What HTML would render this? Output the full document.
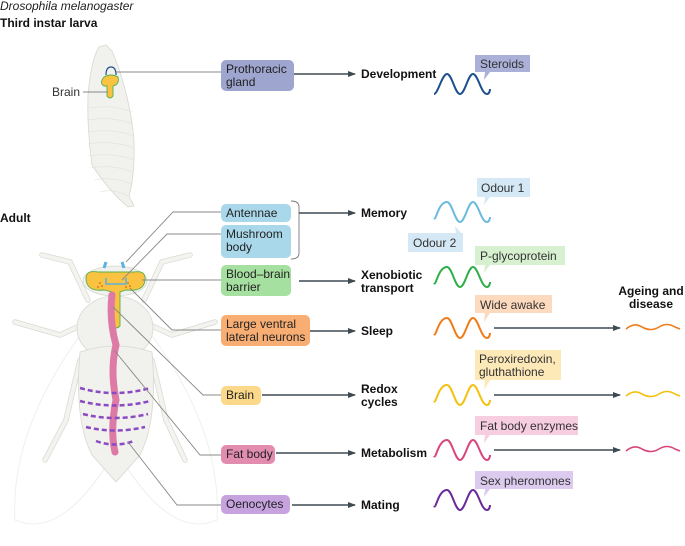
<!DOCTYPE html>
<html><head><meta charset="utf-8"><style>
html,body{margin:0;padding:0;background:#fff;}
svg{display:block;font-family:"Liberation Sans",sans-serif;}
.b{font-weight:bold;font-size:12px;fill:#111;}
.t{font-size:12px;fill:#333;}
.ln{stroke:#888;stroke-width:0.9;fill:none;}
.ar{stroke:#3d4a52;stroke-width:1.6;fill:none;}
.w{fill:none;stroke-width:2;}
.fly{fill:#f1f1ed;stroke:#d8d8d2;stroke-width:0.8;}
</style></head><body>
<svg width="685" height="546" viewBox="0 0 685 546" xmlns="http://www.w3.org/2000/svg">
<defs>
<marker id="ah" markerWidth="8" markerHeight="8" refX="7" refY="4" orient="auto" markerUnits="userSpaceOnUse"><path d="M0,1 L8,4 L0,7 Z" fill="#3d4a52"/></marker>
</defs>
<text x="0" y="10" font-style="italic" font-size="12" fill="#222">Drosophila melanogaster</text>
<text x="0" y="27" class="b">Third instar larva</text>
<text x="0" y="222" class="b">Adult</text>

<!-- larva -->
<path class="fly" d="M99,47 L106,45 L112,51 Q129,90 134,140 Q135,175 129,196 L134,206 L128,207 Q108,190 92,165 Q87,130 88,95 Q91,60 99,47 Z"/>
<g stroke="#e2e2dc" stroke-width="0.6" fill="none">
<path d="M89,108 Q112,104 132,112"/><path d="M88,120 Q112,116 133,124"/><path d="M88,132 Q112,128 134,136"/><path d="M88,144 Q112,140 134,148"/><path d="M88,156 Q112,152 134,160"/><path d="M90,168 Q112,164 133,172"/><path d="M94,180 Q112,176 131,184"/><path d="M100,192 Q113,188 128,196"/>
</g>
<path d="M106,75 Q106,67 111,67 Q116,67 116,75" fill="none" stroke="#1d4f8f" stroke-width="1.2"/>
<path d="M104,77 Q99,83 104,86 L107,86 L107,96 Q110,100 113,96 L113,86 Q120,84 118,77 Q111,73 104,77 Z" fill="#f9c240" stroke="#56b04a" stroke-width="0.9"/>
<text x="52" y="96" class="t">Brain</text>
<line x1="83" y1="92" x2="108" y2="92" class="ln"/>
<line x1="116" y1="72" x2="221" y2="72" class="ln"/>

<!-- adult fly -->
<g>
<path d="M84,330 Q10,430 15,520 Q60,540 110,460 Z" fill="none" stroke="#ececea" stroke-width="0.8"/>
<path d="M148,330 Q222,430 217,520 Q172,540 122,460 Z" fill="none" stroke="#ececea" stroke-width="0.8"/>
<g stroke="#d9d9d3" stroke-width="5.5" stroke-linecap="round" fill="none">
<path d="M88,300 L70,262 L42,255"/><path d="M144,300 L162,262 L190,255"/>
<path d="M82,325 L60,335 L15,322"/><path d="M150,325 L172,335 L215,322"/>
<path d="M80,360 L66,420 L45,460"/><path d="M152,360 L166,420 L185,460"/>
</g>
<g stroke="#f3f3f0" stroke-width="4" stroke-linecap="round" fill="none">
<path d="M88,300 L70,262 L42,255"/><path d="M144,300 L162,262 L190,255"/>
<path d="M82,325 L60,335 L15,322"/><path d="M150,325 L172,335 L215,322"/>
<path d="M80,360 L66,420 L45,460"/><path d="M152,360 L166,420 L185,460"/>
</g>
<ellipse class="fly" cx="115" cy="281" rx="32" ry="15"/>
<ellipse class="fly" cx="115" cy="328" rx="38" ry="32"/>
<path class="fly" d="M80,352 Q115,340 152,352 Q158,420 140,455 L116,482 L92,455 Q74,420 80,352 Z"/>
<path d="M86,278 Q86,270 98,272 L134,272 Q146,270 145,280 Q144,292 126,290 L120,292 L120,326 Q116,330 112,326 L112,292 L104,290 Q86,292 86,278 Z" fill="#f9c240" stroke="#56b04a" stroke-width="0.9"/>
<path d="M106,278 L106,284 L126,284 L126,278" fill="none" stroke="#5cb2e0" stroke-width="1.6"/>
<circle cx="100" cy="283" r="1" fill="#e2781a"/><circle cx="102" cy="286" r="1" fill="#e2781a"/><circle cx="98" cy="287" r="1" fill="#e2781a"/>
<circle cx="128" cy="283" r="1" fill="#e2781a"/><circle cx="130" cy="286" r="1" fill="#e2781a"/><circle cx="126" cy="287" r="1" fill="#e2781a"/>
<path d="M104,268 L106,262 M124,268 L122,262" stroke="#5cb2e0" stroke-width="3"/>
<path d="M112,295 Q109,320 116,345 Q110,370 116,400 Q110,430 115,452" stroke="#de7aa6" stroke-width="7" fill="none" stroke-linecap="round"/>
<g stroke="#8a4bc2" stroke-width="2.5" stroke-dasharray="5,3" fill="none">
<path d="M80,388 Q115,398 150,388"/><path d="M80,401 Q115,410 150,401"/><path d="M83,414 Q115,422 148,414"/><path d="M86,427 Q115,434 145,427"/><path d="M96,441 Q115,448 134,441"/>
</g>
</g>

<!-- leader lines -->
<polyline class="ln" points="221,212 173,212 126,262"/>
<polyline class="ln" points="221,234 167,234 122,280"/>
<polyline class="ln" points="221,280 142,280"/>
<polyline class="ln" points="221,330 172,330 130,288"/>
<polyline class="ln" points="221,395 203,395 113,307"/>
<polyline class="ln" points="221,455 200,455 114,350"/>
<polyline class="ln" points="221,505 177,505 128,442"/>

<!-- boxes -->
<g font-size="12" fill="#222">
<rect x="221" y="60" width="73" height="31" rx="5" fill="#9ea5cf"/>
<text x="226" y="73">Prothoracic</text><text x="226" y="86">gland</text>
<rect x="221" y="204" width="70" height="18" rx="5" fill="#a9d8ea"/><text x="226" y="217">Antennae</text>
<rect x="221" y="225" width="70" height="33" rx="5" fill="#a9d8ea"/><text x="226" y="238">Mushroom</text><text x="226" y="251">body</text>
<rect x="221" y="265" width="70" height="31" rx="5" fill="#a6e0a0"/><text x="226" y="278">Blood–brain</text><text x="226" y="291">barrier</text>
<rect x="221" y="315" width="89" height="31" rx="5" fill="#f8ae73"/><text x="226" y="328">Large ventral</text><text x="226" y="341">lateral neurons</text>
<rect x="221" y="386" width="40" height="19" rx="5" fill="#fcd98a"/><text x="226" y="399">Brain</text>
<rect x="221" y="445" width="54" height="19" rx="5" fill="#e28db0"/><text x="226" y="458">Fat body</text>
<rect x="221" y="495" width="69" height="19" rx="5" fill="#c6a3df"/><text x="226" y="508">Oenocytes</text>
</g>
<path d="M291,201 Q299,201 299,207 L299,253 Q299,259 291,259" fill="none" stroke="#777" stroke-width="0.9"/>

<!-- arrows -->
<line x1="294" y1="74" x2="355" y2="74" class="ar" marker-end="url(#ah)"/>
<line x1="299" y1="213" x2="355" y2="213" class="ar" marker-end="url(#ah)"/>
<line x1="299" y1="281" x2="355" y2="281" class="ar" marker-end="url(#ah)"/>
<line x1="310" y1="331" x2="355" y2="331" class="ar" marker-end="url(#ah)"/>
<line x1="262" y1="395" x2="355" y2="395" class="ar" marker-end="url(#ah)"/>
<line x1="276" y1="453" x2="355" y2="453" class="ar" marker-end="url(#ah)"/>
<line x1="292" y1="505" x2="355" y2="505" class="ar" marker-end="url(#ah)"/>
<line x1="494" y1="328" x2="620" y2="328" class="ar" marker-end="url(#ah)"/>
<line x1="494" y1="395" x2="620" y2="395" class="ar" marker-end="url(#ah)"/>
<line x1="494" y1="450" x2="620" y2="450" class="ar" marker-end="url(#ah)"/>

<g class="b">
<text x="361" y="78">Development</text>
<text x="361" y="217">Memory</text>
<text x="361" y="279">Xenobiotic</text><text x="361" y="292">transport</text>
<text x="361" y="335">Sleep</text>
<text x="361" y="393">Redox</text><text x="361" y="406">cycles</text>
<text x="361" y="457">Metabolism</text>
<text x="361" y="509">Mating</text>
<text x="651" y="295" text-anchor="middle">Ageing and</text><text x="651" y="308" text-anchor="middle">disease</text>
</g>

<!-- callouts -->
<g font-size="12" fill="#333">
<path d="M475,55 H530 V72 H490 L484,80 L485,72 H475 Z" fill="#aab0d8"/><text x="480" y="68">Steroids</text>
<path d="M477,178 H530 V197 H490 L484,205 L485,197 H477 Z" fill="#d4e8f5"/><text x="481" y="192">Odour 1</text>
<path d="M408,233 H456 L455,226 L461,233 H463 V252 H408 Z" fill="#d4e8f5"/><text x="413" y="247">Odour 2</text>
<path d="M475,246 H565 V265 H490 L484,273 L485,265 H475 Z" fill="#d7f0cf"/><text x="480" y="260">P-glycoprotein</text>
<path d="M475,295 H552 V313 H490 L484,322 L485,313 H475 Z" fill="#fdd9bd"/><text x="480" y="309">Wide awake</text>
<path d="M475,350 H561 V380 H490 L484,390 L485,380 H475 Z" fill="#fde8b7"/><text x="479" y="363">Peroxiredoxin,</text><text x="479" y="376">gluthathione</text>
<path d="M475,416 H578 V435 H490 L484,443 L485,435 H475 Z" fill="#f7cde0"/><text x="480" y="430">Fat body enzymes</text>
<path d="M475,471 H573 V489 H490 L484,497 L485,489 H475 Z" fill="#dccbee"/><text x="480" y="485">Sex pheromones</text>
</g>

<!-- waves -->
<g class="w">
<path stroke="#1d4f8f" transform="translate(0,84)" d="M434,10 C438,10 442,-10 447,-10 C452,-10 455,10 460,10 C465,10 468,-10 473,-10 C478,-10 481,10 487,10 C489,10 490,7 490,5"/>
<path stroke="#6bbadf" transform="translate(0,212)" d="M434,6 C436,10 438,-10 447,-10 C452,-10 455,10 460,10 C465,10 468,-10 473,-10 C478,-10 481,10 487,10 C489,10 490,7 490,5"/>
<path stroke="#2fae4a" transform="translate(0,277)" d="M434,6 C436,10 438,-10 447,-10 C452,-10 455,10 460,10 C465,10 468,-10 473,-10 C478,-10 481,10 487,10 C489,10 490,7 490,5"/>
<path stroke="#ef7d1a" transform="translate(0,328)" d="M434,6 C436,10 438,-10 447,-10 C452,-10 455,10 460,10 C465,10 468,-10 473,-10 C478,-10 481,10 487,10 C489,10 490,7 490,5"/>
<path stroke="#f3c10e" transform="translate(0,395)" d="M434,6 C436,10 438,-10 447,-10 C452,-10 455,10 460,10 C465,10 468,-10 473,-10 C478,-10 481,10 487,10 C489,10 490,7 490,5"/>
<path stroke="#d9457d" transform="translate(0,450)" d="M434,6 C436,10 438,-10 447,-10 C452,-10 455,10 460,10 C465,10 468,-10 473,-10 C478,-10 481,10 487,10 C489,10 490,7 490,5"/>
<path stroke="#6a2a9a" transform="translate(0,500)" d="M434,6 C436,10 438,-10 447,-10 C452,-10 455,10 460,10 C465,10 468,-10 473,-10 C478,-10 481,10 487,10 C489,10 490,7 490,5"/>
<path stroke="#ef7d1a" stroke-width="1.6" d="M626,329 Q634,322 642,327 Q651,332 659,327 Q667,322 675,327 L680,329"/>
<path stroke="#f3c10e" stroke-width="1.6" d="M626,396 Q634,389 642,394 Q651,399 659,394 Q667,389 675,394 L680,396"/>
<path stroke="#d9457d" stroke-width="1.6" d="M626,451 Q634,444 642,449 Q651,454 659,449 Q667,444 675,449 L680,451"/>
</g>
</svg>
</body></html>
